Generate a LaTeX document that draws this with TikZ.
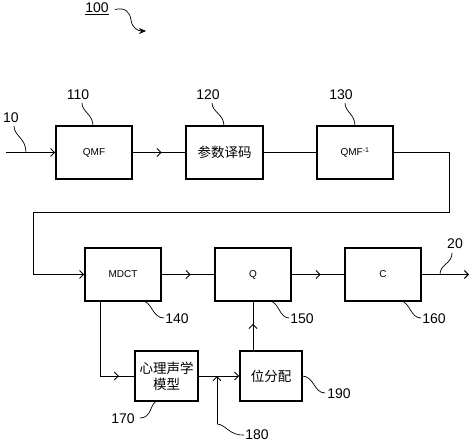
\documentclass[tikz,border=0pt]{standalone}
\usepackage{fontspec}
\setmainfont{Liberation Sans}
\newfontfamily\cjk{Noto Sans CJK SC}
\usetikzlibrary{arrows.meta,decorations.markings}
\begin{document}
\begin{tikzpicture}[x=1pt,y=-1pt,
  blk/.style={draw,line width=1.6pt,minimum width=76pt,minimum height=53pt,inner sep=0pt,font=\fontsize{10}{11}\selectfont},
  cblk/.style={draw,line width=1.6pt,inner sep=0pt,font=\cjk\fontsize{13.5}{16}\selectfont,align=center},
  conn/.style={line width=0.8pt},
  endarrow/.style={conn,-{Straight Barb[length=4pt,width=8pt,line width=0.9pt]}},
  midarrow/.style={conn,decoration={markings,mark=at position 0.55 with {\arrow{Straight Barb[length=4pt,width=8pt,line width=0.9pt]}}},postaction={decorate}},
  lab/.style={font=\fontsize{14}{15}\selectfont,inner sep=1pt},
  sq/.style={line width=0.7pt}]
\useasboundingbox (0,0) rectangle (474,444);
% blocks
\node[blk] (qmf) at (94,152.5) {QMF};
\node[cblk,minimum width=77pt,minimum height=53pt] (pc) at (224.5,152.5) {参数译码};
\node[blk] (qmfi) at (355,152.5) {QMF\textsuperscript{-1}};
\node[blk] (mdct) at (123,274.5) {MDCT};
\node[blk] (q) at (253,274.5) {Q};
\node[blk] (c) at (383,274.5) {C};
\node[cblk,minimum width=63pt,minimum height=50pt] (psy) at (166.5,376) {心理声学\\模型};
\node[cblk,minimum width=62pt,minimum height=50pt] (bit) at (271,376) {位分配};
% coordinates
\coordinate (in) at (6,152.5);
\coordinate (out) at (469,274.5);
\coordinate (r1) at (449,152.5);
\coordinate (r2) at (449,212);
\coordinate (r3) at (33,212);
\coordinate (r4) at (33,274.5);
\coordinate (m1) at (100,301);
\coordinate (m2) at (100,376);
\coordinate (b1) at (253,351);
\coordinate (e180) at (217,424);
\coordinate (e180t) at (217,376);
% connectors
\draw[endarrow] (in) -- (qmf.west);
\draw[midarrow] (qmf.east) -- (pc.west);
\draw[conn] (pc.east) -- (qmfi.west);
\draw[endarrow] (qmfi.east) -- (r1) -- (r2) -- (r3) -- (r4) -- (mdct.west);
\draw[midarrow] (mdct.east) -- (q.west);
\draw[midarrow] (q.east) -- (c.west);
\draw[endarrow] (c.east) -- (out);
\draw[conn] (m1) -- (m2);
\draw[midarrow] (m2) -- (psy.west);
\draw[endarrow] (psy.east) -- (bit.west);
\draw[midarrow] (b1) -- (b1 |- q.south);
\draw[endarrow] (e180) -- (e180t);
% labels
\node[lab] (l100) at (97,9) {\underline{100}};
\node[lab] (l110) at (78,95) {110};
\node[lab] (l120) at (208,95) {120};
\node[lab] (l130) at (341,95) {130};
\node[lab] (l10) at (11,118) {10};
\node[lab] (l20) at (455,244) {20};
\node[lab] (l140) at (177,319) {140};
\node[lab] (l150) at (302,319) {150};
\node[lab] (l160) at (434,319) {160};
\node[lab] (l170) at (123,419) {170};
\node[lab] (l190) at (339,394) {190};
\node[lab] (l180) at (257,435) {180};
% squiggles
\draw[sq,-{Stealth[length=7pt,width=6pt]}] (115,9.5) .. controls (125,7) and (130,12) .. (131,20) .. controls (132,28) and (138,31) .. (146,31);
\draw[sq] (82,103) .. controls (82,112) and (93,114) .. (93,126);
\draw[sq] (212,103) .. controls (212,112) and (224,114) .. (224,126);
\draw[sq] (345,103) .. controls (345,112) and (355,114) .. (355,126);
\draw[sq] (14,126) .. controls (14,136) and (26,138) .. (26,152.5);
\draw[sq] (440,274.5) .. controls (440,264) and (452,264) .. (452,253);
\draw[sq] (142,301) .. controls (152,301) and (152,318) .. (164,318);
\draw[sq] (269,301) .. controls (279,301) and (279,318) .. (289,318);
\draw[sq] (400,301) .. controls (410,301) and (410,318) .. (421,318);
\draw[sq] (140,418) .. controls (152,418) and (150,403) .. (157,401);
\draw[sq] (302,376) .. controls (314,376) and (314,393) .. (325,393);
\draw[sq] (217,424) .. controls (225,424) and (230,436) .. (244,435);
\end{tikzpicture}
\end{document}
